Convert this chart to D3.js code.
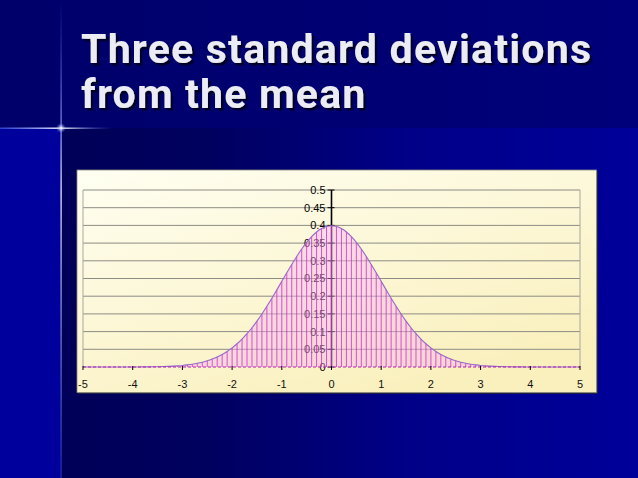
<!DOCTYPE html>
<html>
<head>
<meta charset="utf-8">
<script src="https://cdnjs.cloudflare.com/ajax/libs/d3/7.8.5/d3.min.js"></script>
<style>
  html, body { margin: 0; padding: 0; background: #000070; }
  svg { display: block; }
</style>
</head>
<body>
<div id="slide"></div>
<script>
// Standard normal density, x from -5 to 5 in steps of 0.1
var xValues = [];
for (var i = 0; i <= 100; i++) xValues.push(-5 + i / 10);
var densities = [
  0.0000, 0.0000, 0.0000, 0.0000, 0.0000, 0.0000, 0.0000, 0.0001, 0.0001, 0.0001,
  0.0001, 0.0002, 0.0003, 0.0004, 0.0006, 0.0009, 0.0012, 0.0017, 0.0024, 0.0033,
  0.0044, 0.0060, 0.0079, 0.0104, 0.0136, 0.0175, 0.0224, 0.0283, 0.0355, 0.0440,
  0.0540, 0.0656, 0.0790, 0.0940, 0.1109, 0.1295, 0.1497, 0.1714, 0.1942, 0.2179,
  0.2420, 0.2661, 0.2897, 0.3123, 0.3332, 0.3521, 0.3683, 0.3814, 0.3910, 0.3970,
  0.3989,
  0.3970, 0.3910, 0.3814, 0.3683, 0.3521, 0.3332, 0.3123, 0.2897, 0.2661, 0.2420,
  0.2179, 0.1942, 0.1714, 0.1497, 0.1295, 0.1109, 0.0940, 0.0790, 0.0656, 0.0540,
  0.0440, 0.0355, 0.0283, 0.0224, 0.0175, 0.0136, 0.0104, 0.0079, 0.0060, 0.0044,
  0.0033, 0.0024, 0.0017, 0.0012, 0.0009, 0.0006, 0.0004, 0.0003, 0.0002, 0.0001,
  0.0001, 0.0001, 0.0001, 0.0000, 0.0000, 0.0000, 0.0000, 0.0000, 0.0000, 0.0000
];
var xTicks = [-5, -4, -3, -2, -1, 0, 1, 2, 3, 4, 5];
var yTicks = [0, 0.05, 0.1, 0.15, 0.2, 0.25, 0.3, 0.35, 0.4, 0.45, 0.5];
var yTickLabels = ['0', '0.05', '0.1', '0.15', '0.2', '0.25', '0.3', '0.35', '0.4', '0.45', '0.5'];
var titleLines = ['Three standard deviations', 'from the mean'];

var width = 638;
var height = 478;
var svg = d3.select('#slide').append('svg').attr('width', width).attr('height', height);
var defs = svg.append('defs');

// Slide background
var lowGrad = defs.append('linearGradient').attr('id', 'lowGrad').attr('x1', 0).attr('x2', 1).attr('y1', 0).attr('y2', 0);
lowGrad.append('stop').attr('offset', '0%').attr('stop-color', '#000058');
lowGrad.append('stop').attr('offset', '25%').attr('stop-color', '#00005e');
lowGrad.append('stop').attr('offset', '60%').attr('stop-color', '#000088');
lowGrad.append('stop').attr('offset', '100%').attr('stop-color', '#00009a');

var topGrad = defs.append('linearGradient').attr('id', 'topGrad').attr('x1', 0).attr('x2', 1).attr('y1', 0).attr('y2', 0);
topGrad.append('stop').attr('offset', '0%').attr('stop-color', '#00006a');
topGrad.append('stop').attr('offset', '100%').attr('stop-color', '#00007a');

svg.append('rect').attr('x', 0).attr('y', 0).attr('width', width).attr('height', 128).style('fill', 'url(#topGrad)');
svg.append('rect').attr('x', 0).attr('y', 128).attr('width', 61).attr('height', height - 128).style('fill', '#00009c');
svg.append('rect').attr('x', 61).attr('y', 128).attr('width', width - 61).attr('height', height - 128).style('fill', 'url(#lowGrad)');

// Glowing cross lines
var vGlow = defs.append('linearGradient').attr('id', 'vGlow').attr('x1', 0).attr('x2', 0).attr('y1', 0).attr('y2', 1);
vGlow.append('stop').attr('offset', '0%').attr('stop-color', '#6080ff').attr('stop-opacity', 0);
vGlow.append('stop').attr('offset', '27%').attr('stop-color', '#90a8ff').attr('stop-opacity', 0.9);
vGlow.append('stop').attr('offset', '40%').attr('stop-color', '#ffffff').attr('stop-opacity', 1);
vGlow.append('stop').attr('offset', '100%').attr('stop-color', '#4060e0').attr('stop-opacity', 0.5);
svg.append('rect').attr('x', 60.5).attr('y', 0).attr('width', 1.2).attr('height', height).style('fill', 'url(#vGlow)');

var hGlow = defs.append('linearGradient').attr('id', 'hGlow').attr('x1', 0).attr('x2', 1).attr('y1', 0).attr('y2', 0);
hGlow.append('stop').attr('offset', '0%').attr('stop-color', '#5070ff').attr('stop-opacity', 0.6);
hGlow.append('stop').attr('offset', '55%').attr('stop-color', '#ffffff').attr('stop-opacity', 1);
hGlow.append('stop').attr('offset', '100%').attr('stop-color', '#5070ff').attr('stop-opacity', 0);
svg.append('rect').attr('x', 0).attr('y', 127.5).attr('width', 112).attr('height', 1.4).style('fill', 'url(#hGlow)');

var star = defs.append('radialGradient').attr('id', 'star');
star.append('stop').attr('offset', '0%').attr('stop-color', '#ffffff').attr('stop-opacity', 1);
star.append('stop').attr('offset', '100%').attr('stop-color', '#8090ff').attr('stop-opacity', 0);
svg.append('circle').attr('cx', 61).attr('cy', 128).attr('r', 5).style('fill', 'url(#star)');

// Title: one text block, two lines, drop shadow; spacing tuned so line one spans ~510px
var shadow = defs.append('filter').attr('id', 'shadow').attr('x', '-10%').attr('y', '-20%').attr('width', '120%').attr('height', '140%');
shadow.append('feDropShadow').attr('dx', 2.5).attr('dy', 2.5).attr('stdDeviation', 0.5)
  .attr('flood-color', '#000024').attr('flood-opacity', 0.95);

var title = svg.append('text').attr('filter', 'url(#shadow)')
  .style('font-family', 'Roboto, "Noto Sans", sans-serif')
  .style('font-weight', 'bold')
  .style('font-size', '41px')
  .style('fill', '#ececf4');
var spans = titleLines.map(function(line, i){
  return title.append('tspan').attr('x', 81).attr('y', 63 + i * 45).text(line);
});
var natural = spans[0].node().getComputedTextLength();
title.style('letter-spacing', ((510 - natural) / (titleLines[0].length - 1)) + 'px');

// Chart panel
var panelGrad = defs.append('linearGradient').attr('id', 'panelGrad').attr('x1', 0).attr('x2', 0.6).attr('y1', 0).attr('y2', 1);
panelGrad.append('stop').attr('offset', '0%').attr('stop-color', '#fffff2');
panelGrad.append('stop').attr('offset', '100%').attr('stop-color', '#faf0be');

svg.append('rect').attr('x', 78).attr('y', 171).attr('width', 520).attr('height', 223).style('fill', '#202040');
svg.append('rect').attr('x', 77).attr('y', 170).attr('width', 519.5).attr('height', 222.5)
  .style('fill', 'url(#panelGrad)').style('stroke', '#8a8a80').style('stroke-width', 0.8);

var x = d3.scaleLinear().domain([-5, 5]).range([83, 580]);
var y = d3.scaleLinear().domain([0, 0.5]).range([367, 190]);

// Grid
svg.append('g').selectAll('line').data(yTicks.slice(1)).enter().append('line')
  .attr('x1', x(-5)).attr('x2', x(5))
  .attr('y1', function(d){ return y(d); }).attr('y2', function(d){ return y(d); })
  .style('stroke', '#8c8c84').style('stroke-width', 1);
[-5, 5].forEach(function(v){
  svg.append('line').attr('x1', x(v)).attr('x2', x(v)).attr('y1', y(0.5)).attr('y2', y(0))
    .style('stroke', '#a8a8a0').style('stroke-width', 1);
});

// Y axis at x = 0
var yAxis = svg.append('g').style('font-family', '"Liberation Sans", Arial, sans-serif').style('font-size', '11px');
yAxis.append('line').attr('x1', x(0)).attr('x2', x(0)).attr('y1', y(0.5)).attr('y2', y(0))
  .style('stroke', '#000').style('stroke-width', 1.6);
yAxis.selectAll('line.tick').data(yTicks).enter().append('line').attr('class', 'tick')
  .attr('x1', x(0) - 4).attr('x2', x(0) + 3)
  .attr('y1', function(d){ return y(d); }).attr('y2', function(d){ return y(d); })
  .style('stroke', '#000').style('stroke-width', 1);
yAxis.selectAll('text').data(yTicks).enter().append('text')
  .attr('x', x(0) - 6).attr('y', function(d){ return y(d); }).attr('dy', '0.36em')
  .attr('text-anchor', 'end').style('fill', '#000')
  .text(function(d, i){ return yTickLabels[i]; });

// Density area with vertical hatching
var points = xValues.map(function(v, i){ return [v, densities[i]]; });
var area = d3.area().x(function(d){ return x(d[0]); }).y0(y(0)).y1(function(d){ return y(d[1]); }).curve(d3.curveMonotoneX);
var line = d3.line().x(function(d){ return x(d[0]); }).y(function(d){ return y(d[1]); }).curve(d3.curveMonotoneX);

svg.append('path').datum(points).attr('d', area).style('fill', '#f2b0f0').style('fill-opacity', 0.42);
svg.append('g').selectAll('line').data(points).enter().append('line')
  .attr('x1', function(d){ return x(d[0]); }).attr('x2', function(d){ return x(d[0]); })
  .attr('y1', y(0)).attr('y2', function(d){ return y(d[1]); })
  .style('stroke', '#cc22cc').style('stroke-width', 1).style('stroke-opacity', 0.75);
svg.append('path').datum(points).attr('d', line)
  .style('fill', 'none').style('stroke', '#9a66c8').style('stroke-width', 1.1);
svg.append('line').attr('x1', x(-5)).attr('x2', x(5)).attr('y1', y(0)).attr('y2', y(0))
  .style('stroke', '#b020b0').style('stroke-width', 1.2).style('stroke-dasharray', '3,2');

// X axis ticks and labels
var xAxis = svg.append('g').style('font-family', '"Liberation Sans", Arial, sans-serif').style('font-size', '11px');
xAxis.selectAll('line').data(xTicks).enter().append('line')
  .attr('x1', function(d){ return x(d); }).attr('x2', function(d){ return x(d); })
  .attr('y1', y(0) - 1).attr('y2', y(0) + 3)
  .style('stroke', '#000').style('stroke-width', 1);
xAxis.selectAll('text').data(xTicks).enter().append('text')
  .attr('x', function(d){ return x(d); }).attr('y', 388)
  .attr('text-anchor', 'middle').style('fill', '#111')
  .text(function(d){ return d; });
</script>
</body>
</html>
